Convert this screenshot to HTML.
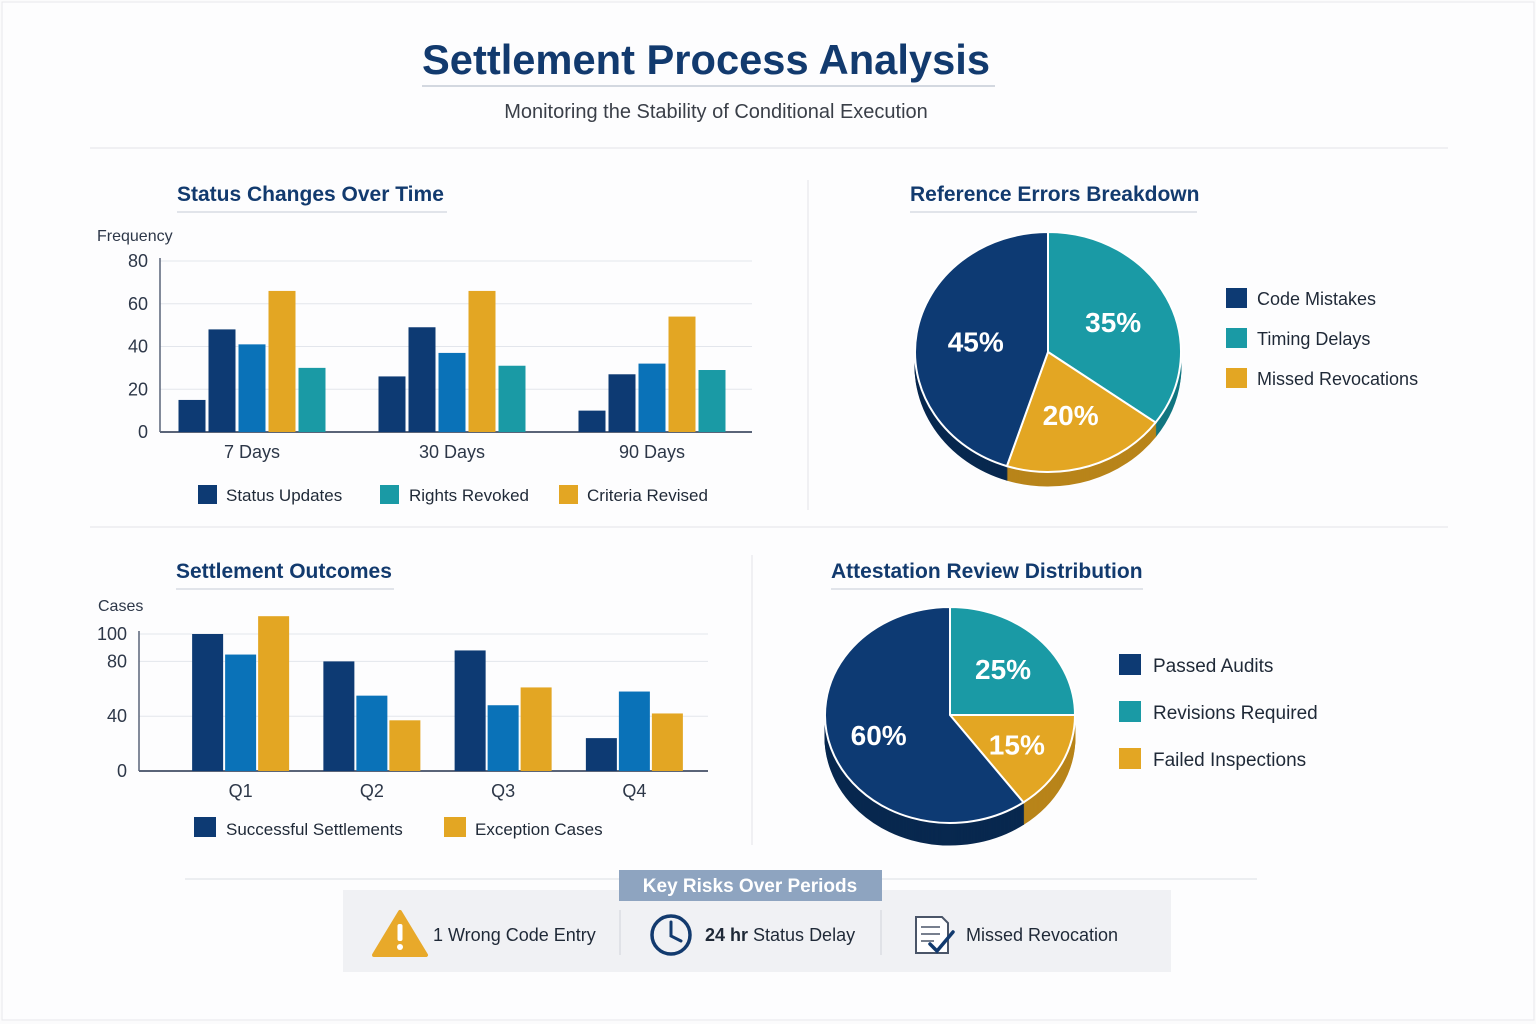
<!DOCTYPE html>
<html><head><meta charset="utf-8"><style>
body{margin:0;background:#fff;}
svg{display:block;font-family:"Liberation Sans",sans-serif;}
</style></head><body>
<svg id="root" width="1536" height="1024" viewBox="0 0 1536 1024">
<rect x="0" y="0" width="1536" height="1024" fill="#fbfbfc"/>
<rect x="2" y="2" width="1532" height="1018" fill="#fdfdfe" stroke="#e8e8ec"/>
<text x="706" y="74" text-anchor="middle" font-size="42" font-weight="bold" fill="#123a6e" textLength="568" lengthAdjust="spacingAndGlyphs">Settlement Process Analysis</text>
<line x1="422" y1="86" x2="995" y2="86" stroke="#c5cbd6" stroke-width="1.5"/>
<text x="716" y="118" text-anchor="middle" font-size="20" fill="#3a3f48">Monitoring the Stability of Conditional Execution</text>
<line x1="90" y1="148" x2="1448" y2="148" stroke="#e2e4e8"/>
<line x1="808" y1="180" x2="808" y2="510" stroke="#e2e4e8"/>
<line x1="90" y1="527" x2="1448" y2="527" stroke="#e2e4e8"/>
<line x1="752" y1="555" x2="752" y2="845" stroke="#e2e4e8"/>
<line x1="185" y1="879" x2="1257" y2="879" stroke="#dcdfe4"/>

<text x="177" y="201" font-size="21" font-weight="bold" fill="#123a6e">Status Changes Over Time</text>
<line x1="177" y1="212" x2="447" y2="212" stroke="#c5cbd6"/>
<text x="910" y="201" font-size="21" font-weight="bold" fill="#123a6e">Reference Errors Breakdown</text>
<line x1="910" y1="212" x2="1197" y2="212" stroke="#c5cbd6"/>
<text x="176" y="578" font-size="21" font-weight="bold" fill="#123a6e">Settlement Outcomes</text>
<line x1="176" y1="589" x2="394" y2="589" stroke="#c5cbd6"/>
<text x="831" y="578" font-size="21" font-weight="bold" fill="#123a6e">Attestation Review Distribution</text>
<line x1="831" y1="589" x2="1143" y2="589" stroke="#c5cbd6"/>

<g id="c1"></g>
<g id="c2"></g>
<g id="p1"></g>
<g id="p2"></g>

<g font-size="17" fill="#1f2937">
<rect x="198" y="485" width="19" height="19" fill="#0d3a73"/>
<text x="226" y="501">Status Updates</text>
<rect x="380" y="485" width="19" height="19" fill="#1a9aa5"/>
<text x="409" y="501">Rights Revoked</text>
<rect x="559" y="485" width="19" height="19" fill="#e3a623"/>
<text x="587" y="501">Criteria Revised</text>
</g>
<g font-size="18" fill="#1f2937">
<rect x="1226" y="288" width="21" height="20" fill="#0d3a73"/>
<text x="1257" y="305">Code Mistakes</text>
<rect x="1226" y="328" width="21" height="20" fill="#1a9aa5"/>
<text x="1257" y="345">Timing Delays</text>
<rect x="1226" y="368" width="21" height="20" fill="#e3a623"/>
<text x="1257" y="385">Missed Revocations</text>
</g>
<g font-size="17" fill="#1f2937">
<rect x="194" y="817" width="22" height="20" fill="#0d3a73"/>
<text x="226" y="835">Successful Settlements</text>
<rect x="444" y="817" width="22" height="20" fill="#e3a623"/>
<text x="475" y="835">Exception Cases</text>
</g>
<g font-size="19" fill="#1f2937">
<rect x="1119" y="654" width="22" height="21" fill="#0d3a73"/>
<text x="1153" y="672">Passed Audits</text>
<rect x="1119" y="701" width="22" height="21" fill="#1a9aa5"/>
<text x="1153" y="719">Revisions Required</text>
<rect x="1119" y="748" width="22" height="21" fill="#e3a623"/>
<text x="1153" y="766">Failed Inspections</text>
</g>

<g>
<rect x="343" y="890" width="828" height="82" fill="#f0f1f4"/>
<rect x="619" y="870" width="263" height="31" fill="#8ea4c0"/>
<text x="750" y="892" text-anchor="middle" font-size="19" font-weight="bold" fill="#fff">Key Risks Over Periods</text>
<line x1="620" y1="910" x2="620" y2="955" stroke="#cfd3da"/>
<line x1="881" y1="910" x2="881" y2="955" stroke="#cfd3da"/>
<g>
<path d="M400 912 L426 955 L374 955 Z" fill="#e8a92a" stroke="#e8a92a" stroke-width="4" stroke-linejoin="round"/>
<rect x="397.5" y="924" width="5" height="17" rx="2" fill="#fff"/>
<circle cx="400" cy="947" r="3" fill="#fff"/>
</g>
<text x="433" y="941" font-size="18" fill="#1f2937">1 Wrong Code Entry</text>
<g>
<circle cx="671" cy="935" r="19" fill="none" stroke="#123a6e" stroke-width="3.5"/>
<path d="M671 922 L671 936 L681 941" fill="none" stroke="#123a6e" stroke-width="3" stroke-linecap="round"/>
</g>
<text x="705" y="941" font-size="18" fill="#1f2937"><tspan font-weight="bold">24 hr</tspan> Status Delay</text>
<g>
<path d="M916 917 L942 917 L948 923 L948 953 L916 953 Z" fill="#fff" stroke="#4a5568" stroke-width="2"/>
<line x1="921" y1="927" x2="940" y2="927" stroke="#4a5568" stroke-width="1.5"/>
<line x1="921" y1="934" x2="940" y2="934" stroke="#4a5568" stroke-width="1.5"/>
<line x1="921" y1="941" x2="934" y2="941" stroke="#4a5568" stroke-width="1.5"/>
<path d="M930 944 L937 951 L953 932" fill="none" stroke="#123a6e" stroke-width="3.5" stroke-linecap="round"/>
</g>
<text x="966" y="941" font-size="18" fill="#1f2937">Missed Revocation</text>
</g>
</svg>
<script>
const NS='http://www.w3.org/2000/svg';
// Chart 1 data
const c1Categories=['7 Days','30 Days','90 Days'];
const c1S1=[15,26,10];
const c1S2=[48,49,27];
const c1S3=[41,37,32];
const c1S4=[66,66,54];
const c1S5=[30,31,29];
const c1Ticks=[0,20,40,60,80];
// Chart 2 data
const c2Categories=['Q1','Q2','Q3','Q4'];
const c2S1=[100,80,88,24];
const c2S2=[85,55,48,58];
const c2S3=[113,37,61,42];
const c2Ticks=[0,40,80,100];
// Pie data
const p1Labels=['Timing Delays','Missed Revocations','Code Mistakes'];
const p1Values=[35,20,45];
const p2Labels=['Revisions Required','Failed Inspections','Passed Audits'];
const p2Values=[25,15,60];

function mk(tag,attrs,parent){const e=document.createElementNS(NS,tag);for(const k in attrs)e.setAttribute(k,attrs[k]);parent.appendChild(e);return e;}

function barChart(g,cfg){
  const ys=v=>cfg.y0-(v-0)/cfg.max*(cfg.y0-cfg.yTop);
  cfg.ticks.forEach(t=>{
    const gl=mk('line',{x1:cfg.x0,x2:cfg.x1,y1:ys(t),y2:ys(t),stroke:'#e3e6ec'},g);
    
    
    const tl=mk('text',{x:cfg.x0-12,y:ys(t)+6,'text-anchor':'end','font-size':18,fill:'#2d3748'},g);
    tl.textContent=t;
    
    
  });
  const ax=mk('line',{x1:cfg.x0,x2:cfg.x0,y1:cfg.yTop-3,y2:cfg.y0,stroke:'#5a6478','stroke-width':1.5},g);
  
  
  const bx=mk('line',{x1:cfg.x0,x2:cfg.x1,y1:cfg.y0,y2:cfg.y0,stroke:'#5a6478','stroke-width':2},g);
  
  
  const yt=mk('text',{x:cfg.titleX,y:cfg.titleY,'font-size':16,fill:'#2d3748'},g);
  yt.textContent=cfg.yTitle;
  
  
  const n=cfg.cats.length, band=(cfg.b1-cfg.b0)/n;
  cfg.cats.forEach((c,i)=>{
    const cx=cfg.b0+band*(i+0.5);
    const k=cfg.series.length, total=k*cfg.bw+(k-1)*cfg.gap;
    cfg.series.forEach((s,j)=>{
      const v=s.data[i];
      const r=mk('rect',{x:cx-total/2+j*(cfg.bw+cfg.gap),y:ys(v),width:cfg.bw,height:cfg.y0-ys(v),fill:s.color},g);
      
      
    });
    const tl=mk('text',{x:cx,y:cfg.y0+26,'text-anchor':'middle','font-size':18,fill:'#2d3748'},g);
    tl.textContent=c;
    
    
  });
}
barChart(document.getElementById('c1'),{x0:160,x1:752,y0:432,yTop:261,max:80,ticks:c1Ticks,cats:c1Categories,b0:152,b1:752,bw:27,gap:3,yTitle:'Frequency',titleX:97,titleY:241,
  series:[{name:'s1',data:c1S1,color:'#0d3a73'},{name:'s2',data:c1S2,color:'#0d3a73'},{name:'s3',data:c1S3,color:'#0a72b8'},{name:'s4',data:c1S4,color:'#e3a623'},{name:'s5',data:c1S5,color:'#1a9aa5'}]});
barChart(document.getElementById('c2'),{x0:139,x1:708,y0:771,yTop:634,max:100,ticks:c2Ticks,cats:c2Categories,b0:175,b1:700,bw:31,gap:2,yTitle:'Cases',titleX:98,titleY:611,
  series:[{name:'successful',data:c2S1,color:'#0d3a73'},{name:'secondary',data:c2S2,color:'#0a72b8'},{name:'exception',data:c2S3,color:'#e3a623'}]});

function pie(g,cfg){
  const total=cfg.values.reduce((a,b)=>a+b,0);
  const pt=(a,dy,f)=>[cfg.cx+cfg.rx*f*Math.sin(a),cfg.cy+dy-cfg.ry*f*Math.cos(a)];
  function slices(dy,colors,named){
    let a=0;
    cfg.values.forEach((v,i)=>{
      const a2=a+v/total*2*Math.PI;
      const p1=pt(a,dy,1),p2=pt(a2,dy,1);
      const large=(a2-a)>Math.PI?1:0;
      const p=mk('path',{d:`M${cfg.cx} ${cfg.cy+dy} L${p1[0]} ${p1[1]} A${cfg.rx} ${cfg.ry} 0 ${large} 1 ${p2[0]} ${p2[1]} Z`,fill:colors[i],stroke:named?'#fff':colors[i],'stroke-width':named?2:1},g);
      if(named){
        
        
        const m=(a+a2)/2, lp=pt(m,0,cfg.lf);
        const t=mk('text',{x:lp[0],y:lp[1]+10,'text-anchor':'middle','font-size':28,'font-weight':'bold',fill:'#fff'},g);
        t.textContent=v+'%';
        
        
      }else{
        
        
      }
      a=a2;
    });
  }
  for(let d=cfg.depth;d>0;d--)slices(d,cfg.dark,false);
  slices(0,cfg.colors,true);
}
pie(document.getElementById('p1'),{cx:1048,cy:352,rx:133,ry:120,depth:14,lf:0.55,values:p1Values,labels:p1Labels,colors:['#1a9aa5','#e3a623','#0d3a73'],dark:['#127680','#b8841a','#08284f']});
pie(document.getElementById('p2'),{cx:950,cy:715,rx:125,ry:108,depth:22,lf:0.6,values:p2Values,labels:p2Labels,colors:['#1a9aa5','#e3a623','#0d3a73'],dark:['#127680','#b8841a','#08284f']});
</script>
</body></html>
